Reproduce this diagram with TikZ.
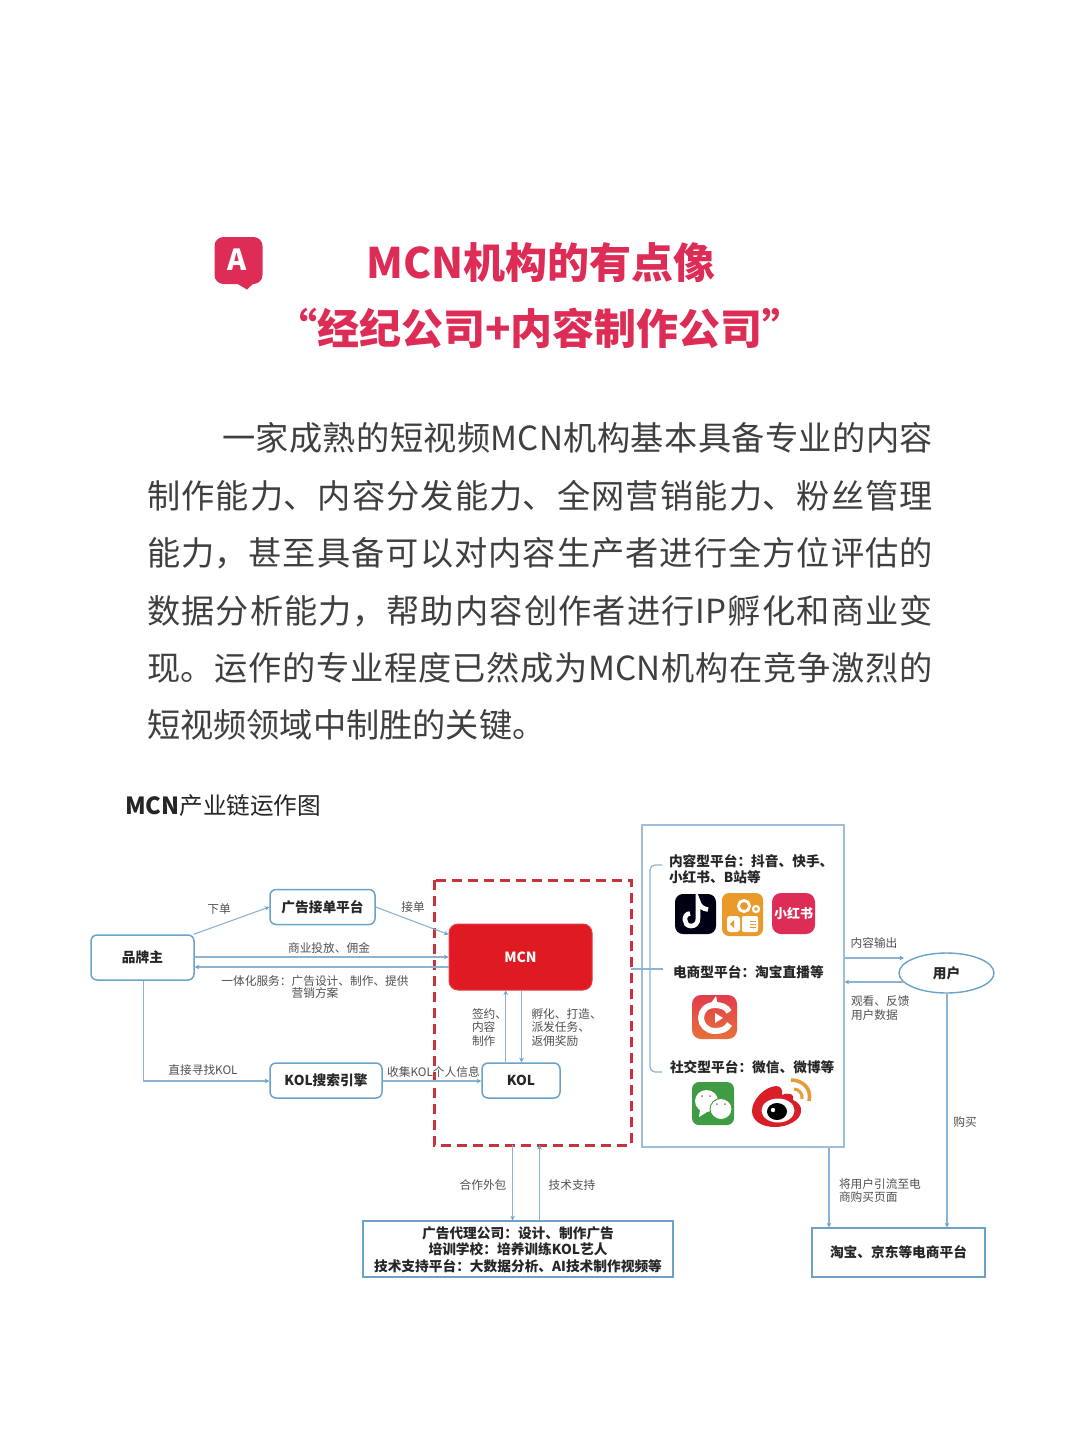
\documentclass[tikz,border=0pt]{standalone}
\usepackage{fontspec}
\setmainfont{Noto Sans CJK SC}
\usetikzlibrary{arrows.meta,calc,shapes.geometric}
\XeTeXlinebreaklocale "zh"
\XeTeXlinebreakskip=0pt plus 4pt minus 1pt
\definecolor{rosered}{HTML}{DD2C55}
\definecolor{bodygray}{HTML}{3F3F3F}
\definecolor{flow}{HTML}{8DB3D3}
\definecolor{edgeblue}{HTML}{6DA2C8}
\definecolor{framelight}{HTML}{9DBDD8}
\definecolor{labelgray}{HTML}{505050}
\definecolor{mcnred}{HTML}{E01A22}
\definecolor{dashred}{HTML}{C8323C}
\definecolor{ksorange}{HTML}{E99A2A}
\definecolor{wxgreen}{HTML}{3F9C42}
\definecolor{wbred}{HTML}{D81E28}
\definecolor{wborange}{HTML}{E89A3C}
\definecolor{tbred}{HTML}{E23C4C}
\definecolor{tborange}{HTML}{E8703A}
\newcommand{\fs}[1]{\fontsize{#1}{#1}\selectfont}
\newcommand{\jline}[2]{\parbox{#1pt}{\parfillskip=0pt\relax\fs{33.2}#2}}
\tikzset{
  x=1pt,y=-1pt,
  txt/.style={inner sep=0pt,outer sep=0pt,align=center},
  titletxt/.style={txt,text=rosered,font=\fs{42}\bfseries},
  bodytxt/.style={txt,anchor=west,text=bodygray},
  lbl/.style={txt,text=labelgray,font=\fs{11.7}},
  lblw/.style={lbl,anchor=west},
  strong/.style={txt,text=black!85,font=\fs{13.7}\bfseries},
  strongw/.style={strong,anchor=west},
  rbox/.style={draw=edgeblue,line width=1.5pt,rounded corners=6pt,fill=white,inner sep=0pt,text=black!85,font=\fs{13.7}\bfseries},
  sbox/.style={draw=edgeblue,line width=1.4pt,fill=white,inner sep=0pt},
  flowline/.style={draw=flow,line width=1.1pt},
  flowarrow/.style={flowline,-{Stealth[length=4.5pt,width=4.5pt,color=edgeblue]}},
}
\newcommand{\boxat}[7]{\node[#1,minimum width=#4pt,minimum height=#5pt,#7] (#2) at (#3) {#6};}
\begin{document}
\begin{tikzpicture}
\useasboundingbox (0,0) rectangle (1080,1440);
\fill[white] (0,0) rectangle (1080,1440);

% heading badge
\fill[rosered,rounded corners=9pt] (214.5,237) rectangle (262.5,284);
\fill[rosered] (236,283) -- (254,283) -- (247,289.5) -- cycle;
\node[txt,text=white,font=\fs{29}\bfseries] (badge) at (237,260) {A};
\node[titletxt] (title1) at (541,263) {MCN机构的有点像};
\node[titletxt] (title2) at (540,328) {“经纪公司+内容制作公司”};

% body text
\node[bodytxt] (b1) at (222,438) {\jline{711}{一家成熟的短视频MCN机构基本具备专业的内容}};
\node[bodytxt] (b2) at (147,496) {\jline{786}{制作能力、内容分发能力、全网营销能力、粉丝管理}};
\node[bodytxt] (b3) at (147,553) {\jline{786}{能力，甚至具备可以对内容生产者进行全方位评估的}};
\node[bodytxt] (b4) at (147,611) {\jline{786}{数据分析能力，帮助内容创作者进行IP孵化和商业变}};
\node[bodytxt] (b5) at (147,668) {\jline{786}{现。运作的专业程度已然成为MCN机构在竞争激烈的}};
\node[bodytxt] (b6) at (147,725) {\fs{33.2}短视频领域中制胜的关键。};

% diagram title
\node[txt,anchor=west,text=black!85,font=\fs{23.6}] (dtitle) at (125,806) {\bfseries MCN\mdseries 产业链运作图};

% dashed frame and platform frame
\draw[dashred,line width=3pt,dash pattern=on 10pt off 6pt] (434,880) rectangle (631,1145);
\node[draw=framelight,line width=1.1pt,fill=white,inner sep=0pt,minimum width=202pt,minimum height=322pt] (plat) at (743,986) {};

% boxes
\boxat{rbox}{brand}{142.5,957.5}{103}{45}{品牌主}{}
\boxat{rbox}{adplat}{322.5,907}{105}{35}{广告接单平台}{}
\node[draw=mcnred!85,line width=1pt,fill=mcnred,rounded corners=9pt,inner sep=0pt,minimum width=143pt,minimum height=66pt,text=white,font=\fs{14}\bfseries] (mcn) at (520.5,957) {MCN};
\boxat{rbox}{engine}{326,1080.5}{112}{35}{KOL搜索引擎}{}
\boxat{rbox}{kol}{521,1080.5}{78}{35}{KOL}{}
\node[draw=edgeblue,line width=1.4pt,fill=white,ellipse,inner sep=0pt,minimum width=95pt,minimum height=40pt,text=black!85,font=\fs{13.7}\bfseries] (user) at (946.5,973) {用户};
\boxat{sbox}{partners}{518,1249}{310}{56}{}{}
\boxat{sbox}{shops}{898.5,1252.5}{173}{49}{}{}
\node[strong] (pt1) at (518,1233) {广告代理公司：设计、制作广告};
\node[strong] (pt2) at (518,1249.5) {培训学校：培养训练KOL艺人};
\node[strong] (pt3) at (518,1266) {技术支持平台：大数据分析、AI技术制作视频等};
\node[strong] (st) at (898.5,1252.5) {淘宝、京东等电商平台};

% connectors
\draw[flowarrow] ($(brand.north east)+(-1,0)$) -- (adplat.west);
\draw[flowarrow] (adplat.east) -- ($(mcn.north west)+(0,11)$);
\draw[flowarrow] (brand.east |- 0,957) -- (mcn.west |- 0,957);
\draw[flowarrow] (mcn.west |- 0,967) -- (brand.east |- 0,967);
\draw[flowarrow] (brand.south -| 143.5,0) -- (143.5,1081) -- (engine.west |- 0,1081);
\draw[flowarrow] (engine.east |- 0,1081) -- (kol.west |- 0,1081);
\draw[flowarrow] (kol.north -| 505.7,0) -- (mcn.south -| 505.7,0);
\draw[flowarrow] (mcn.south -| 521.5,0) -- (kol.north -| 521.5,0);
\draw[flowarrow] (partners.north -| 539.5,0) -- (539.5,1145);
\draw[flowarrow] (512.6,1145) -- (partners.north -| 512.6,0);
\draw[flowarrow] (plat.east |- 0,958) -- (904,958);
\draw[flowarrow] (905,982) -- (plat.east |- 0,982);
\draw[flowarrow] (user.south -| 947,0) -- (shops.north -| 947,0);
\draw[flowarrow] (plat.south -| 829,0) -- (shops.north -| 829,0);

% bracket
\draw[flowline,line width=1.2pt,rounded corners=5pt] (662,865) -- (650,865) -- (650,1072) -- (662,1072);
\draw[flowline,line width=1.2pt] (631,969) -- (663,969);

% labels
\node[lbl] (l1) at (219,909) {下单};
\node[lbl] (l2) at (413,907) {接单};
\node[lbl] (l3) at (329,948) {商业投放、佣金};
\node[lbl] (l4) at (315,981) {一体化服务：广告设计、制作、提供};
\node[lbl] (l5) at (315,993.5) {营销方案};
\node[lblw] (l6a) at (472,1014) {签约、};
\node[lblw] (l6b) at (472,1027.5) {内容};
\node[lblw] (l6c) at (472,1041) {制作};
\node[lblw] (l7a) at (531.5,1014) {孵化、打造、};
\node[lblw] (l7b) at (531.5,1027.5) {派发任务、};
\node[lblw] (l7c) at (531.5,1041) {返佣奖励};
\node[lbl] (l8) at (203,1070) {直接寻找KOL};
\node[lbl] (l9) at (433.5,1071.5) {收集KOL个人信息};
\node[lbl] (l10) at (483,1185) {合作外包};
\node[lbl] (l11) at (572,1185) {技术支持};
\node[lbl] (l12) at (874,943) {内容输出};
\node[lblw] (l13a) at (851,1001) {观看、反馈};
\node[lblw] (l13b) at (851,1015) {用户数据};
\node[lbl] (l14) at (965,1122) {购买};
\node[lblw] (l15a) at (839,1184) {将用户引流至电};
\node[lblw] (l15b) at (839,1197) {商购买页面};

% platform captions
\node[strongw] (p1a) at (669,861) {内容型平台：抖音、快手、};
\node[strongw] (p1b) at (669,877) {小红书、B站等};
\node[strongw] (p2) at (673,972) {电商型平台：淘宝直播等};
\node[strongw] (p3) at (670,1067) {社交型平台：微信、微博等};

% TikTok
\fill[black!92!blue,rounded corners=8pt] (675,894) rectangle (716,934);
\draw[white,line width=4.6pt] (690,913.5) .. controls (683,913.5) and (683,926) .. (691,926) .. controls (695.5,926) and (698,923) .. (698,918) -- (698,901) .. controls (699,906) and (703,909) .. (708,909.5);
% Kuaishou
\fill[ksorange,rounded corners=7pt] (722,893) rectangle (763,936);
\draw[white,line width=2.8pt] (744,906) circle[radius=5.6];
\draw[white,line width=2.2pt] (756,909) circle[radius=3];
\fill[white,rounded corners=3pt] (727,916) rectangle (740,932);
\fill[white,rounded corners=2pt] (742,916) rectangle (758,932);
\fill[ksorange] (734,920) -- (730,924) -- (734,928) -- cycle;
\draw[ksorange,line width=0.9pt] (750,921) -- (756,921) (750,924) -- (756,924) (750,927) -- (756,927);
% Xiaohongshu
\fill[rosered,rounded corners=9pt] (772,893) rectangle (815,934);
\node[txt,text=white,font=\fs{13}\bfseries] (xhs) at (793.5,913.5) {小红书};
% Taobao live
\path[rounded corners=9pt,top color=tbred,bottom color=tborange] (692,995) rectangle (737,1039);
\draw[white,line width=6pt] (729,1012) .. controls (727,1007) and (721,1005) .. (715,1005) .. controls (706,1005) and (701,1011) .. (701,1018) .. controls (701,1025) and (707,1031) .. (715,1031) .. controls (722,1031) and (727,1029) .. (729.5,1024);
\fill[white] (711,1003) -- (716,996) -- (718,1006) -- cycle;
\fill[white] (715,1013) -- (723,1018) -- (715,1023) -- cycle;
% WeChat
\fill[wxgreen,rounded corners=7pt] (692,1082) rectangle (734,1125);
\fill[white] (706.5,1101) ellipse[x radius=11.5,y radius=11];
\fill[white] (700,1110) -- (699,1117) -- (707,1112) -- cycle;
\draw[wxgreen,line width=0.9pt,fill=white] (721,1109) ellipse[x radius=11,y radius=10.5];
\foreach \cx/\cy in {702/1096,710/1096,717/1104,725/1104} \fill[gray] (\cx,\cy) circle[radius=1];
% Weibo
\fill[wbred] (752,1111) .. controls (752,1100) and (764,1087) .. (776,1086) .. controls (781,1086) and (783,1090) .. (782,1095) .. controls (789,1092) and (795,1094) .. (793,1100) .. controls (798,1102) and (802,1106) .. (801,1112) .. controls (800,1120) and (788,1127) .. (775,1127) .. controls (762,1127) and (752,1121) .. (752,1111) -- cycle;
\fill[white] (778,1110.5) ellipse[x radius=16.5,y radius=12];
\fill[black] (777,1111.5) ellipse[x radius=10,y radius=8.5];
\fill[white] (773,1110) circle[radius=2.2];
\draw[wborange,line width=3.6pt] (791,1080) .. controls (803,1080) and (812,1089) .. (809,1101);
\draw[wborange,line width=3pt] (794,1089) .. controls (799,1089) and (803,1094) .. (802,1099);
\end{tikzpicture}
\end{document}
